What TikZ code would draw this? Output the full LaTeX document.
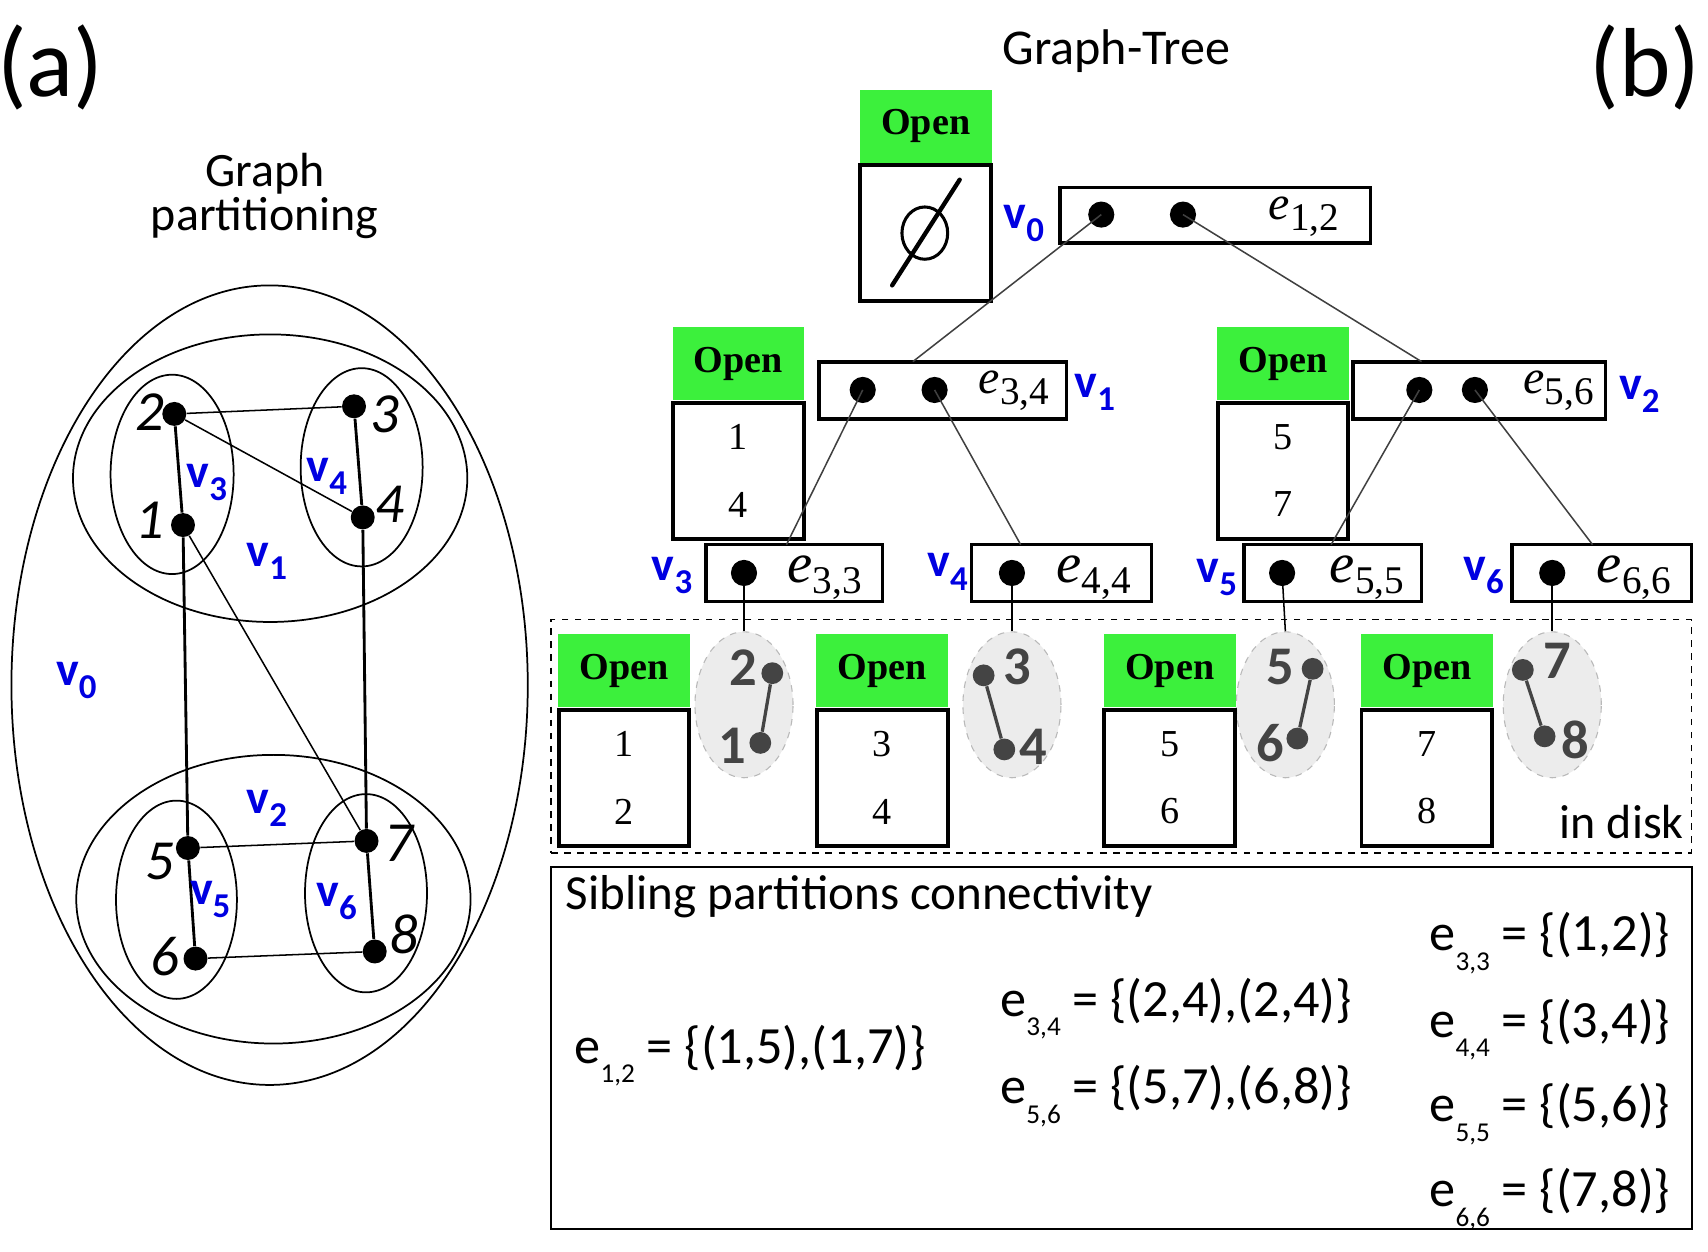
\documentclass[tikz,border=0pt]{standalone}
\usepackage{fontspec}
\setmainfont{Carlito}
\newfontfamily\timesfont{Liberation Serif}
\usetikzlibrary{shapes.geometric}

\definecolor{opengreen}{RGB}{60,240,60}
\definecolor{vblue}{RGB}{0,0,225}
\definecolor{diskgray}{RGB}{68,68,68}

\newcommand{\fsz}[1]{\fontsize{#1}{#1}\selectfont}
\newcommand{\vlab}[1]{\textbf{v}\raisebox{-6pt}{\fsz{16}\textbf{#1}}}
\newcommand{\eup}[1]{{\timesfont\fsz{22}\itshape e}\raisebox{-5pt}{\timesfont\fsz{18}#1}}
\newcommand{\eleaf}[1]{{\timesfont\fsz{26}\itshape e}\raisebox{-5pt}{\timesfont\fsz{18}#1}}
\newcommand{\eset}[2]{e\raisebox{-9pt}{\fsz{12.5}#1}\ = #2}

\tikzset{
  gdot/.style={circle, fill=black, minimum size=11pt},
  tdot/.style={circle, fill=black, minimum size=12pt},
  ddot/.style={circle, fill=diskgray, minimum size=10pt},
  gnum/.style={font=\itshape\fsz{26}},
  dnum/.style={font=\bfseries\fsz{25}, text=diskgray},
  vlabel/.style={text=vblue, font=\fsz{22}},
  part/.style={draw, ellipse, line width=0.8pt},
  gedge/.style={line width=0.7pt},
  gedgeb/.style={line width=1.3pt},
  openhead/.style={fill=opengreen, minimum width=60.5pt, minimum height=33.5pt,
    font=\timesfont\bfseries\fsz{17.5}},
  openbody/.style={draw, fill=white, line width=1.8pt, minimum width=60pt, minimum height=62.5pt,
    align=center, font=\timesfont\fontsize{17.5}{31}\selectfont},
  ebox/.style={draw, line width=1.6pt, minimum height=26pt},
  tline/.style={line width=0.7pt, black!75},
  diskell/.style={ellipse, draw=gray!55, dashed, fill=gray!15, line width=0.5pt,
    minimum width=45pt, minimum height=67pt},
  dline/.style={line width=1.5pt, diskgray},
  eqn/.style={font=\fsz{24}}
}

\begin{document}
\begin{tikzpicture}[x=0.5pt, y=-0.5pt, every node/.style={inner sep=0pt}]
\useasboundingbox (0,0) rectangle (1568,1149);

% titles
\node[font=\fsz{45}, anchor=west] (ta) at (-3,62) {(a)};
\node[font=\fsz{45}] (tb) at (1510,62) {(b)};
\node[font=\fsz{23}] (tgt) at (1025,47) {Graph-Tree};
\node[font=\fontsize{22}{20}\selectfont, align=center] (tgp) at (243,180) {Graph\\partitioning};

% (a) partitions
\node[part, minimum width=237pt, minimum height=367pt] (p0) at (247.5,629) {};
\node[part, minimum width=181pt, minimum height=132pt] (p1) at (248,439) {};
\node[part, minimum width=181pt, minimum height=132.5pt] (p2) at (251,825.5) {};
\node[part, minimum width=56.5pt, minimum height=91.5pt] (p3) at (158,435.5) {};
\node[part, minimum width=56pt, minimum height=91pt] (p4) at (332,429) {};
\node[part, minimum width=55.5pt, minimum height=91pt] (p5) at (162,826) {};
\node[part, minimum width=56pt, minimum height=91pt] (p6) at (336,820) {};

\node[gdot] (n1) at (168,482) {};
\node[gdot] (n2) at (160,380) {};
\node[gdot] (n3) at (325,373) {};
\node[gdot] (n4) at (333,475) {};
\node[gdot] (n5) at (172.5,778.5) {};
\node[gdot] (n6) at (179.5,880) {};
\node[gdot] (n7) at (336.5,772) {};
\node[gdot] (n8) at (344,873.5) {};

\draw[gedge] (n2) -- (n3);
\draw[gedge] (n2) -- (n4);
\draw[gedge] (n1) -- (n7);
\draw[gedge] (n5) -- (n7);
\draw[gedge] (n6) -- (n8);
\draw[gedgeb] (n2) -- (n1);
\draw[gedgeb] (n3) -- (n4);
\draw[gedgeb] (n1) -- (n5);
\draw[gedgeb] (n4) -- (n7);
\draw[gedgeb] (n5) -- (n6);
\draw[gedgeb] (n7) -- (n8);

\node[gnum] (l1) at (138,478) {1};
\node[gnum] (l2) at (138,378) {2};
\node[gnum] (l3) at (353,380) {3};
\node[gnum] (l4) at (358,463) {4};
\node[gnum] (l5) at (147,791) {5};
\node[gnum] (l6) at (151.5,878) {6};
\node[gnum] (l7) at (366.5,774) {7};
\node[gnum] (l8) at (371,857.5) {8};

\node[vlabel] (a0) at (70,625) {\vlab{0}};
\node[vlabel] (a1) at (245,515) {\vlab{1}};
\node[vlabel] (a2) at (245,742) {\vlab{2}};
\node[vlabel] (a3) at (190,443) {\vlab{3}};
\node[vlabel] (a4) at (300,437) {\vlab{4}};
\node[vlabel] (a5) at (193,826) {\vlab{5}};
\node[vlabel] (a6) at (309,828) {\vlab{6}};

% (b) graph-tree, open lists
\node[openhead, anchor=north west] (o0h) at (789,82) {Open};
\node[openbody, anchor=north] (o0b) at (o0h.south) {};
\draw[line width=1.4pt] (849,214) ellipse [x radius=21, y radius=24];
\draw[line width=2pt, line cap=round] (819,262) -- (881,165);
\node[openhead, anchor=north west] (o1h) at (617,300) {Open};
\node[openbody, anchor=north] (o1b) at (o1h.south) {1\\4};
\node[openhead, anchor=north west] (o2h) at (1117,300) {Open};
\node[openbody, anchor=north] (o2b) at (o2h.south) {5\\7};

% tree vertices
\node[ebox, minimum width=142.5pt, minimum height=25.5pt] (v0e) at (1115.5,197.5) {};
\node[ebox, minimum width=113.5pt] (v1e) at (865.5,358.5) {};
\node[ebox, minimum width=116pt] (v2e) at (1358,358.5) {};
\node[ebox, minimum width=81pt] (v3e) at (729,526) {};
\node[ebox, minimum width=82.5pt] (v4e) at (974.5,526) {};
\node[ebox, minimum width=81.5pt] (v5e) at (1223.5,526) {};
\node[ebox, minimum width=82.5pt] (v6e) at (1470.5,526) {};

\node[tdot] (v0a) at (1011,197) {};
\node[tdot] (v0b) at (1086,197) {};
\node[tdot] (v1a) at (792,358) {};
\node[tdot] (v1b) at (858,358) {};
\node[tdot] (v2a) at (1303,358) {};
\node[tdot] (v2b) at (1354,358) {};
\node[tdot] (v3a) at (683,526) {};
\node[tdot] (v4a) at (929,526) {};
\node[tdot] (v5a) at (1177,526) {};
\node[tdot] (v6a) at (1425,526) {};

\node (e12) at (1197,199) {\eup{1,2}};
\node (e34) at (931,359) {\eup{3,4}};
\node (e56) at (1431,359) {\eup{5,6}};
\node (e33) at (757,530) {\eleaf{3,3}};
\node (e44) at (1004,530) {\eleaf{4,4}};
\node (e55) at (1255,530) {\eleaf{5,5}};
\node (e66) at (1500,530) {\eleaf{6,6}};

\node[vlabel] (b0) at (940,205) {\vlab{0}};
\node[vlabel] (b1) at (1005,360) {\vlab{1}};
\node[vlabel] (b2) at (1505,362) {\vlab{2}};
\node[vlabel] (b3) at (617,528) {\vlab{3}};
\node[vlabel] (b4) at (870,525) {\vlab{4}};
\node[vlabel] (b5) at (1117,530) {\vlab{5}};
\node[vlabel] (b6) at (1362,528) {\vlab{6}};

\coordinate (v1top) at (838,332);
\coordinate (v2top) at (1305,332);
\coordinate (v3top) at (722,500);
\coordinate (v4top) at (937,500);
\coordinate (v5top) at (1222,500);
\coordinate (v6top) at (1462,500);
\draw[tline] (v0a.center) -- (v1top);
\draw[tline] (v0b.center) -- (v2top);
\draw[tline] (v1a.center) -- (v3top);
\draw[tline] (v1b.center) -- (v4top);
\draw[tline] (v2a.center) -- (v5top);
\draw[tline] (v2b.center) -- (v6top);

% in disk
\node[draw, dashed, line width=0.8pt, minimum width=523.5pt, minimum height=107pt, anchor=north west] (disk) at (505,568) {};
\node[font=\fsz{22}, anchor=base east] (ind) at (1546,770) {in disk};

\node[diskell] (d1) at (683,647) {};
\node[diskell] (d2) at (929,647) {};
\node[diskell] (d3) at (1180,647) {};
\node[diskell] (d4) at (1425,647) {};
\draw[tline, black] (v3a.center) -- (d1.north);
\draw[tline, black] (v4a.center) -- (d2.north);
\draw[tline, black] (v5a.center) -- (d3.north);
\draw[tline, black] (v6a.center) -- (d4.north);

\node[dnum] (k2) at (682,613) {2};
\node[dnum] (k1) at (672,685) {1};
\node[ddot] (g2) at (709,618) {};
\node[ddot] (g1) at (698,682) {};
\draw[dline] (g2) -- (g1);
\node[dnum] (k3) at (934,612) {3};
\node[dnum] (k4) at (949,686) {4};
\node[ddot] (g3) at (903,620) {};
\node[ddot] (g4) at (922,688) {};
\draw[dline] (g3) -- (g4);
\node[dnum] (k5) at (1175,612) {5};
\node[dnum] (k6) at (1166,682) {6};
\node[ddot] (g5) at (1205,614) {};
\node[ddot] (g6) at (1191,678) {};
\draw[dline] (g5) -- (g6);
\node[dnum] (k7) at (1430,607) {7};
\node[dnum] (k8) at (1446,679) {8};
\node[ddot] (g7) at (1398,615) {};
\node[ddot] (g8) at (1418,676) {};
\draw[dline] (g7) -- (g8);

\node[openhead, anchor=north west] (o3h) at (512,582) {Open};
\node[openbody, anchor=north] (o3b) at (o3h.south) {1\\2};
\node[openhead, anchor=north west] (o4h) at (749,582) {Open};
\node[openbody, anchor=north] (o4b) at (o4h.south) {3\\4};
\node[openhead, anchor=north west] (o5h) at (1013,582) {Open};
\node[openbody, anchor=north] (o5b) at (o5h.south) {5\\6};
\node[openhead, anchor=north west] (o6h) at (1249,582) {Open};
\node[openbody, anchor=north] (o6b) at (o6h.south) {7\\8};

% sibling connectivity
\node[draw, line width=1pt, minimum width=523.5pt, minimum height=166pt, anchor=north west] (sib) at (505,795) {};
\node[font=\fsz{22.5}, anchor=base west] (sibt) at (519,835) {Sibling partitions connectivity};
\node[eqn, anchor=base west] (q12) at (527,976) {\eset{1,2}{\{(1,5),(1,7)\}}};
\node[eqn, anchor=base west] (q34) at (918,933) {\eset{3,4}{\{(2,4),(2,4)\}}};
\node[eqn, anchor=base west] (q56) at (918,1013) {\eset{5,6}{\{(5,7),(6,8)\}}};
\node[eqn, anchor=base west] (q33) at (1312,873) {\eset{3,3}{\{(1,2)\}}};
\node[eqn, anchor=base west] (q44) at (1312,952) {\eset{4,4}{\{(3,4)\}}};
\node[eqn, anchor=base west] (q55) at (1312,1030) {\eset{5,5}{\{(5,6)\}}};
\node[eqn, anchor=base west] (q66) at (1312,1108) {\eset{6,6}{\{(7,8)\}}};
\end{tikzpicture}
\end{document}
